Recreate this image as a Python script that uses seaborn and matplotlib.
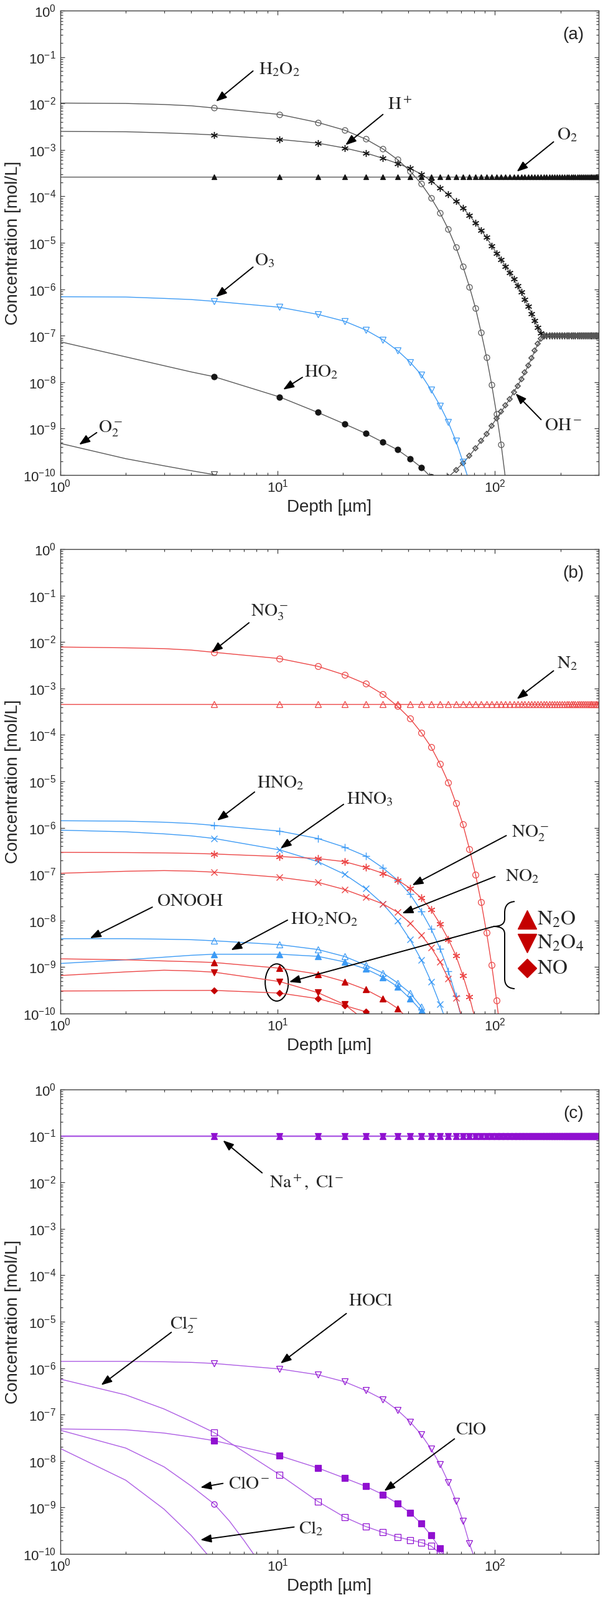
import numpy as np
import matplotlib
matplotlib.use('Agg')
import matplotlib.pyplot as plt
import seaborn as sns
from matplotlib.patches import Ellipse, PathPatch
from matplotlib.path import Path
from matplotlib.ticker import LogLocator, NullFormatter

# depth grid (um) of the saved profiles, one marker on each grid point
GRID = [5.1, 10.2, 15.3, 20.3, 25.4, 30.5, 35.6, 40.7, 45.8, 50.8,
        55.9, 61.0, 66.1, 71.2, 76.3, 81.4, 86.4, 91.5, 96.6, 101.7,
        106.8, 111.9, 116.9, 122.0, 127.1, 132.2, 137.3, 142.4, 147.5, 152.5,
        157.6, 162.7, 167.8, 172.9, 178.0, 183.1, 188.1, 193.2, 198.3, 203.4,
        208.5, 213.6, 218.6, 223.7, 228.8, 233.9, 239.0, 244.1, 249.2, 254.2,
        259.3, 264.4, 269.5, 274.6, 279.7, 284.7, 289.8, 294.9, 300.0]
# near-surface points (line only, no marker)
HEAD = [1, 2, 3, 4]

X_TICKS = [1, 10, 100]
X_EXP = [0, 1, 2]
Y_TICKS = [1e-10, 1e-9, 1e-8, 1e-7, 1e-6, 1e-5, 1e-4, 1e-3, 1e-2, 1e-1, 1]
Y_EXP = [-10, -9, -8, -7, -6, -5, -4, -3, -2, -1, 0]

# ---- panel (a): oxygen species [mol/L]
H2O2_HEAD = [1.02e-2, 1.0e-2, 9.5e-3, 8.9e-3]
H2O2 = [8.0e-3, 5.8e-3, 3.9e-3, 2.67e-3, 1.71e-3, 1.05e-3, 6.2e-4, 3.5e-4, 1.86e-4, 9.3e-5,
        4.4e-5, 1.95e-5, 8.1e-6, 3.1e-6, 1.13e-6, 3.9e-7, 1.17e-7, 3.4e-8, 8.8e-9, 2.06e-9,
        4.5e-10, 8e-11]
HP_HEAD = [2.5e-3, 2.46e-3, 2.33e-3, 2.22e-3]
HP = [2.1e-3, 1.68e-3, 1.4e-3, 1.1e-3, 8.6e-4, 6.6e-4, 5.1e-4, 4.0e-4, 3.0e-4, 2.15e-4,
      1.5e-4, 1.1e-4, 7.8e-5, 5.6e-5, 3.9e-5, 2.65e-5, 1.85e-5, 1.3e-5, 8.6e-6, 6.0e-6,
      4.3e-6, 3.1e-6, 2.3e-6, 1.65e-6, 1.2e-6, 8.6e-7, 6.1e-7, 4.3e-7, 3.0e-7, 2.1e-7,
      1.5e-7, 1.15e-7, 1.02e-7] + [1.0e-7] * 26
OHM_START = 11  # first grid point shown
OHM = [9.1e-11, 1.28e-10, 1.8e-10, 2.6e-10, 3.8e-10, 5.4e-10, 7.7e-10, 1.16e-9, 1.67e-9, 2.3e-9,
       3.2e-9, 4.3e-9, 6.1e-9, 8.3e-9, 1.16e-8, 1.64e-8, 2.3e-8, 3.3e-8, 4.8e-8, 6.7e-8,
       8.7e-8, 9.8e-8] + [1.0e-7] * 26
O2_HEAD = [2.6e-4] * 4
O2 = [2.6e-4] * 59
O3_HEAD = [6.9e-7, 6.8e-7, 6.35e-7, 6.0e-7]
O3 = [5.5e-7, 4.1e-7, 2.88e-7, 2.05e-7, 1.33e-7, 8.2e-8, 4.8e-8, 2.7e-8, 1.44e-8, 6.8e-9,
      3.1e-9, 1.36e-9, 5.4e-10, 1.93e-10, 7e-11]
HO2_HEAD = [7.4e-8, 3.5e-8, 2.26e-8, 1.66e-8]
HO2 = [1.31e-8, 4.8e-9, 2.23e-9, 1.26e-9, 7.9e-10, 5.1e-10, 3.5e-10, 2.25e-10, 1.46e-10, 9e-11]
O2M_HEAD = [4.8e-10, 2.25e-10, 1.58e-10, 1.24e-10]
O2M = [1.02e-10, 5e-11]

# ---- panel (b): nitrogen species
NO3M_HEAD = [7.8e-3, 7.5e-3, 7.2e-3, 6.7e-3]
NO3M = [6.0e-3, 4.4e-3, 3.0e-3, 1.96e-3, 1.26e-3, 7.5e-4, 4.15e-4, 2.24e-4, 1.12e-4, 5.5e-5,
        2.35e-5, 9.5e-6, 3.4e-6, 1.18e-6, 3.5e-7, 9.8e-8, 2.5e-8, 5.5e-9, 1.1e-9, 1.93e-10, 3e-11]
N2_HEAD = [4.6e-4] * 4
N2 = [4.6e-4] * 59
HNO2_HEAD = [1.42e-6, 1.39e-6, 1.32e-6, 1.24e-6]
HNO2 = [1.13e-6, 8.5e-7, 5.9e-7, 3.84e-7, 2.47e-7, 1.37e-7, 7.5e-8, 3.7e-8, 1.6e-8, 6.7e-9,
        2.5e-9, 8.2e-10, 2.4e-10, 6e-11]
HNO3_HEAD = [8.9e-7, 8.2e-7, 7.4e-7, 6.7e-7]
HNO3 = [5.9e-7, 3.35e-7, 1.87e-7, 1.0e-7, 4.9e-8, 2.3e-8, 1.0e-8, 3.9e-9, 1.44e-9, 4.9e-10,
        1.57e-10, 5e-11]
NO2M_HEAD = [2.96e-7, 2.93e-7, 2.88e-7, 2.82e-7]
NO2M = [2.73e-7, 2.41e-7, 2.18e-7, 1.87e-7, 1.4e-7, 1.05e-7, 7.5e-8, 5.0e-8, 3.1e-8, 1.73e-8,
        8.5e-9, 4.0e-9, 1.77e-9, 6.6e-10, 2.3e-10, 7e-11]
NO2_HEAD = [1.05e-7, 1.16e-7, 1.2e-7, 1.17e-7]
NO2 = [1.11e-7, 8.6e-8, 6.7e-8, 4.7e-8, 3.2e-8, 2.3e-8, 1.53e-8, 8.9e-9, 4.9e-9, 2.66e-9,
       1.3e-9, 5.7e-10, 2.2e-10, 7e-11]
ONOOH_HEAD = [4.1e-9, 4.1e-9, 4.0e-9, 3.9e-9]
ONOOH = [3.7e-9, 3.05e-9, 2.4e-9, 1.7e-9, 1.11e-9, 7.5e-10, 4.6e-10, 2.77e-10, 1.4e-10, 6e-11]
HO2NO2_HEAD = [1.2e-9, 1.44e-9, 1.64e-9, 1.8e-9]
HO2NO2 = [1.9e-9, 1.9e-9, 1.71e-9, 1.3e-9, 9.2e-10, 6.1e-10, 3.8e-10, 2.1e-10, 1.15e-10, 5e-11]
N2O_HEAD = [1.51e-9, 1.44e-9, 1.36e-9, 1.31e-9]
N2O = [1.26e-9, 9.5e-10, 7.1e-10, 4.9e-10, 3.3e-10, 2.1e-10, 1.3e-10, 7e-11]
N2O4_HEAD = [6.6e-10, 7.9e-10, 8.6e-10, 8.3e-10]
N2O4 = [7.8e-10, 4.9e-10, 2.83e-10, 1.57e-10, 7e-11]
NO_HEAD = [3.07e-10, 3.1e-10, 3.15e-10, 3.15e-10]
NO = [3.16e-10, 2.77e-10, 2.1e-10, 1.49e-10, 1.1e-10, 7e-11]

# ---- panel (c): chlorine species
NA_HEAD = [0.1] * 4
NA = [0.1] * 59
CLM_HEAD = [0.1] * 4
CLM = [0.1] * 59
HOCL_HEAD = [1.4e-6, 1.4e-6, 1.37e-6, 1.33e-6]
HOCL = [1.26e-6, 9.6e-7, 7.2e-7, 5.1e-7, 3.3e-7, 2.13e-7, 1.25e-7, 7.0e-8, 3.7e-8, 1.82e-8,
        8.4e-9, 3.5e-9, 1.38e-9, 5.1e-10, 1.67e-10, 7e-11]
CLO_HEAD = [4.9e-8, 4.7e-8, 4.0e-8, 3.3e-8]
CLO = [2.75e-8, 1.3e-8, 7.1e-9, 4.3e-9, 2.86e-9, 1.9e-9, 1.22e-9, 7.7e-10, 4.5e-10, 2.5e-10,
       1.3e-10, 5e-11]
CL2M_HEAD = [5.8e-7, 2.65e-7, 1.32e-7, 7.1e-8]
CL2M = [4.1e-8, 5.1e-9, 1.35e-9, 6.2e-10, 3.9e-10, 2.9e-10, 2.3e-10, 2.0e-10, 1.76e-10, 1.48e-10,
        1.03e-10, 5e-11]
CLOM_DEPTH = [1, 2, 3, 4, 5.1, 6, 7, 8]
CLOM = [4.6e-8, 1.9e-8, 7.5e-9, 2.9e-9, 1.19e-9, 5.1e-10, 1.95e-10, 8e-11]
CL2_DEPTH = [1, 2, 3, 4, 5.1]
CL2 = [1.86e-8, 3.86e-9, 9.2e-10, 2.5e-10, 6.5e-11]

# colours
GRAY = '#585858'
BLACK = '#151515'
BLUE = '#3d9bf5'
RED = '#ec4646'
DARKRED = '#c40000'
PLINE = '#ad5ce4'
PURPLE = '#9010d0'
ASTER = (6, 2, 0)

sns.set_style('ticks')
plt.rcParams['font.family'] = ['Liberation Sans', 'DejaVu Sans']
plt.rcParams['mathtext.fontset'] = 'stix'

fig = plt.figure(figsize=(9.69, 25.70), dpi=100)
LEFT, WIDTH, HEIGHT = 0.1001, 0.8927, 0.2903
ax_a = fig.add_axes([LEFT, 0.7031, WIDTH, HEIGHT])
ax_b = fig.add_axes([LEFT, 0.3665, WIDTH, HEIGHT])
ax_c = fig.add_axes([LEFT, 0.0288, WIDTH, HEIGHT])


def profile(ax, head, vals, color, marker, mfc='none', mec=None, ms=6,
            start=0, lcolor=None, mew=0.9, lw=1.0):
    depth = HEAD[:len(head)] + GRID[start:start + len(vals)]
    conc = head + vals
    marks = list(range(len(head), len(conc)))
    sns.lineplot(x=depth, y=conc, ax=ax, color=lcolor or color, lw=lw,
                 marker=marker, markevery=marks, ms=ms, mfc=mfc,
                 mec=mec or color, mew=mew, sort=False, estimator=None)


def callout(ax, label, txt, tail, tip, size=21):
    ax.annotate('', xy=tip, xytext=tail,
                arrowprops=dict(arrowstyle='-|>,head_length=0.8,head_width=0.3',
                                color='black', lw=1.4, mutation_scale=13,
                                shrinkA=0, shrinkB=0))
    ax.text(txt[0], txt[1], label, fontsize=size, ha='left', va='center')


# panel (a)
profile(ax_a, O2_HEAD, O2, BLACK, '^', mfc=BLACK, lcolor=GRAY, ms=6)
profile(ax_a, H2O2_HEAD, H2O2, GRAY, 'o', ms=6.5)
profile(ax_a, HP_HEAD, HP, BLACK, ASTER, lcolor=GRAY, ms=8, mew=1.0)
profile(ax_a, [], OHM, GRAY, 'D', ms=4.5, start=OHM_START, mew=1.3)
profile(ax_a, O3_HEAD, O3, BLUE, 'v', ms=6.5)
profile(ax_a, HO2_HEAD, HO2, BLACK, 'o', mfc=BLACK, lcolor=GRAY, ms=6.5)
profile(ax_a, O2M_HEAD, O2M, GRAY, 'v', ms=6.5)

callout(ax_a, r'$\mathrm{H_2O_2}$', (8.2, 5.5e-2), (7.7, 5.0e-2), (5.2, 1.1e-2))
callout(ax_a, r'$\mathrm{H^+}$', (32.1, 9.5e-3), (30.5, 5.8e-3), (20.5, 1.27e-3))
callout(ax_a, r'$\mathrm{O_2}$', (193, 2.15e-3), (186, 1.49e-3), (126, 3.4e-4))
callout(ax_a, r'$\mathrm{O_3}$', (7.8, 4.2e-6), (7.7, 3.0e-6), (5.2, 6.8e-7))
callout(ax_a, r'$\mathrm{HO_2}$', (13.3, 1.68e-8), (13.0, 1.27e-8), (10.6, 6.9e-9))
callout(ax_a, r'$\mathrm{O_2^-}$', (1.5, 1.0e-9), (1.47, 8.2e-10), (1.22, 4.5e-10))
callout(ax_a, r'$\mathrm{OH^-}$', (169.5, 1.18e-9), (163, 1.56e-9), (124.4, 5.7e-9))

# panel (b)
profile(ax_b, N2_HEAD, N2, RED, '^', ms=6.5)
profile(ax_b, NO3M_HEAD, NO3M, RED, 'o', ms=7)
profile(ax_b, HNO2_HEAD, HNO2, BLUE, '+', ms=8, mew=1.0)
profile(ax_b, HNO3_HEAD, HNO3, BLUE, 'x', ms=7, mew=1.0)
profile(ax_b, NO2M_HEAD, NO2M, RED, ASTER, ms=8.5, mew=1.0)
profile(ax_b, NO2_HEAD, NO2, RED, 'x', ms=7, mew=1.0)
profile(ax_b, ONOOH_HEAD, ONOOH, BLUE, '^', ms=6.5)
profile(ax_b, HO2NO2_HEAD, HO2NO2, BLUE, '^', mfc=BLUE, ms=6.5)
profile(ax_b, N2O_HEAD, N2O, DARKRED, '^', mfc=DARKRED, lcolor=RED, ms=6.5)
profile(ax_b, N2O4_HEAD, N2O4, DARKRED, 'v', mfc=DARKRED, lcolor=RED, ms=6.5)
profile(ax_b, NO_HEAD, NO, DARKRED, 'D', mfc=DARKRED, lcolor=RED, ms=5)

callout(ax_b, r'$\mathrm{NO_3^-}$', (7.53, 4.4e-2), (7.38, 2.6e-2), (4.97, 6.0e-3))
callout(ax_b, r'$\mathrm{N_2}$', (193, 3.5e-3), (186, 2.4e-3), (126, 5.9e-4))
callout(ax_b, r'$\mathrm{HNO_2}$', (8.04, 9.4e-6), (7.83, 5.9e-6), (5.27, 1.43e-6))
callout(ax_b, r'$\mathrm{HNO_3}$', (20.8, 4.2e-6), (20.1, 3.2e-6), (10.3, 3.6e-7))
callout(ax_b, r'$\mathrm{NO_2^-}$', (119.5, 7.5e-7), (112.7, 6.8e-7), (41.6, 5.8e-8))
callout(ax_b, r'$\mathrm{NO_2}$', (111.9, 9.2e-8), (100, 8.9e-8), (37.4, 1.44e-8))
callout(ax_b, r'$\mathrm{ONOOH}$', (2.78, 2.67e-8), (2.65, 1.96e-8), (1.37, 4.2e-9))
callout(ax_b, r'$\mathrm{HO_2NO_2}$', (11.5, 1.09e-8), (11.1, 1.03e-8), (6.1, 2.33e-9))
ax_b.annotate('', xy=(11.3, 4.8e-10), xytext=(98.6, 7.5e-9),
              arrowprops=dict(arrowstyle='-|>,head_length=0.8,head_width=0.3',
                              color='black', lw=1.4, mutation_scale=13,
                              shrinkA=0, shrinkB=0))
ax_b.add_patch(Ellipse((0.402, 0.067), 0.043, 0.080, transform=ax_b.transAxes,
                       fill=False, ec='black', lw=1.4))
brace = Path([(0.8439, 0.2413), (0.8254, 0.2399), (0.8254, 0.2172), (0.8254, 0.2038),
              (0.8254, 0.1877), (0.8046, 0.1877), (0.8254, 0.1877), (0.8254, 0.1716),
              (0.8254, 0.0751), (0.8254, 0.0550), (0.8439, 0.0536)],
             [Path.MOVETO, Path.CURVE3, Path.CURVE3, Path.LINETO, Path.CURVE3, Path.CURVE3,
              Path.CURVE3, Path.CURVE3, Path.LINETO, Path.CURVE3, Path.CURVE3])
ax_b.add_patch(PathPatch(brace, fc='none', ec='black', lw=1.4,
                         transform=ax_b.transAxes, clip_on=False))
for yk, mk, ms, lab in [(0.2024, '^', 21, r'$\mathrm{N_2O}$'),
                        (0.1515, 'v', 21, r'$\mathrm{N_2O_4}$'),
                        (0.0979, 'D', 15, r'$\mathrm{NO}$')]:
    ax_b.plot([0.867], [yk], marker=mk, ms=ms, color=DARKRED, transform=ax_b.transAxes,
              clip_on=False, ls='none')
    ax_b.text(0.886, yk, lab, transform=ax_b.transAxes, fontsize=24,
              ha='left', va='center')

# panel (c)
profile(ax_c, NA_HEAD, NA, PURPLE, '^', mfc=PURPLE, lcolor=PLINE, ms=7, lw=1.6)
profile(ax_c, CLM_HEAD, CLM, PURPLE, 'v', mfc=PURPLE, lcolor=PLINE, ms=7, lw=1.6)
profile(ax_c, HOCL_HEAD, HOCL, PURPLE, 'v', lcolor=PLINE, ms=6.5)
profile(ax_c, CLO_HEAD, CLO, PURPLE, 's', mfc=PURPLE, lcolor=PLINE, ms=6.5)
profile(ax_c, CL2M_HEAD, CL2M, PURPLE, 's', lcolor=PLINE, ms=6.5)
sns.lineplot(x=CLOM_DEPTH, y=CLOM, ax=ax_c, color=PLINE, lw=1.0, marker='o',
             markevery=[4], ms=6.5, mfc='none', mec=PURPLE, mew=0.9,
             sort=False, estimator=None)
sns.lineplot(x=CL2_DEPTH, y=CL2, ax=ax_c, color=PLINE, lw=1.0,
             sort=False, estimator=None)

callout(ax_c, r'$\mathrm{Na^+,\ Cl^-}$', (9.18, 9.8e-3), (8.48, 1.6e-2), (5.6, 8.0e-2))
callout(ax_c, r'$\mathrm{HOCl}$', (21.2, 2.86e-5), (20.7, 1.5e-5), (10.3, 1.26e-6))
callout(ax_c, r'$\mathrm{ClO}$', (66, 4.8e-8), (65.1, 3.0e-8), (30.9, 2.26e-9))
callout(ax_c, r'$\mathrm{Cl_2^-}$', (3.19, 8.6e-6), (3.24, 5.9e-6), (1.54, 4.3e-7))
callout(ax_c, r'$\mathrm{ClO^-}$', (5.94, 3.3e-9), (5.6, 3.3e-9), (4.41, 2.7e-9))
callout(ax_c, r'$\mathrm{Cl_2}$', (12.5, 3.5e-10), (11.9, 3.8e-10), (4.41, 2.0e-10))

for ax, tag in [(ax_a, '(a)'), (ax_b, '(b)'), (ax_c, '(c)')]:
    ax.set_xscale('log')
    ax.set_yscale('log')
    ax.set_xlim(1, 300)
    ax.set_ylim(1e-10, 1)
    ax.set_xticks(X_TICKS, [r'$\mathregular{10^{%d}}$' % e for e in X_EXP])
    ax.set_yticks(Y_TICKS, [r'$\mathregular{10^{%d}}$' % e for e in Y_EXP])
    ax.xaxis.set_minor_locator(LogLocator(base=10, subs=np.arange(2, 10), numticks=20))
    ax.yaxis.set_minor_locator(LogLocator(base=10, subs=np.arange(2, 10), numticks=40))
    ax.xaxis.set_minor_formatter(NullFormatter())
    ax.yaxis.set_minor_formatter(NullFormatter())
    ax.tick_params(which='both', direction='in', top=True, right=True,
                   color='#404040', width=0.9, labelsize=16, pad=5)
    ax.tick_params(which='major', length=5)
    ax.tick_params(which='minor', length=3)
    for sp in ax.spines.values():
        sp.set_color('#404040')
        sp.set_linewidth(1.0)
    ax.set_xlabel('')
    ax.set_ylabel('')
    ax.text(0.5, -0.07, 'Depth [µm]', transform=ax.transAxes, fontsize=20,
            ha='center', va='center')
    ax.text(-0.088, 0.5, 'Concentration [mol/L]', transform=ax.transAxes, fontsize=20,
            rotation=90, ha='center', va='center')
    ax.text(0.953, 0.948, tag, transform=ax.transAxes, fontsize=20,
            ha='center', va='center')

fig.savefig('out.png', dpi=100)
